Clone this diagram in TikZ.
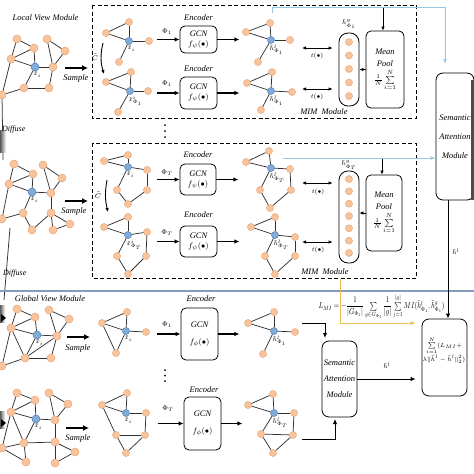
\documentclass[tikz,border=0pt]{standalone}
\usepackage{fontspec}
\setmainfont{Liberation Serif}
\usepackage{amsmath}
\usepackage{graphicx}
\usetikzlibrary{arrows.meta,calc}
\definecolor{fo}{RGB}{248,196,158}
\definecolor{do}{RGB}{232,165,115}
\definecolor{fb}{RGB}{128,172,215}
\definecolor{db}{RGB}{75,125,180}
\definecolor{lblue}{RGB}{150,200,228}
\definecolor{ylw}{RGB}{235,190,85}
\definecolor{sepc}{RGB}{135,155,190}
\newcommand\mkgraph[4]{%
  \foreach \n/\x/\y/\c in {#3}{\node[gn,minimum size=#2,fill=f\c,draw=d\c] (#1-\n) at (\x,\y) {};}
  \foreach \a/\b in {#4}{\draw[edge] (#1-\a)--(#1-\b);}
}
\newcommand\blbl[2]{\node[mlbl,anchor=north west] at ($(#1)+(-1.5,4.5)$) {#2};}
\begin{document}
\begin{tikzpicture}[x=1pt,y=-1pt,
 gn/.style={circle,inner sep=0pt,line width=0.5pt},
 edge/.style={draw=black!80,line width=0.75pt},
 arr/.style={-{Latex[length=5pt,width=4.5pt]},line width=1.3pt},
 sarr/.style={-{Latex[length=6pt,width=6pt]},line width=2pt},
 darr/.style={{Latex[length=4pt,width=3.5pt]}-{Latex[length=4pt,width=3.5pt]},line width=1pt},
 thinarr/.style={-{Latex[length=4pt,width=3.5pt]},line width=0.9pt},
 box/.style={draw,rounded corners=5pt,line width=0.8pt,inner sep=1pt},
 dbox/.style={draw,dash pattern=on 4pt off 2.5pt,line width=0.9pt},
 lbl/.style={font=\fontsize{8.5}{9}\selectfont\itshape,inner sep=0pt},
 mlbl/.style={font=\fontsize{6}{7}\selectfont,inner sep=0pt},
]
\useasboundingbox (0,0) rectangle (474,474);
\clip (0,0) rectangle (474,474);
\fill[white] (0,0) rectangle (474,474);

% ---------- left big graphs ----------
\node[lbl] (tlv) at (45.5,18) {Local View Module};
\mkgraph{La}{8pt}{1/17/39/o,2/34/48/o,3/47/39/o,4/65/51/o,5/11/59/o,6/35/67/b,7/53/67/o,8/24/88/o,9/49/88/o,10/2/95/o}{1/2,1/5,2/5,2/6,5/6,3/7,3/4,4/7,6/7,7/9,8/9,6/8,5/10,8/10}
\blbl{La-6}{$\tilde{x}_i$}

\mkgraph{Lb}{8pt}{1/14/164/o,2/33/174/o,3/43/165/o,4/62/178/o,5/9/184/o,6/32/192/b,7/51/193/o,8/23/213/o,9/51/213/o,10/2/219/o,11/32/230/o,12/53/230/o,13/70/224/o}{1/2,1/5,2/5,2/6,5/6,3/7,3/4,4/7,6/7,7/9,6/8,5/10,8/10,8/11,11/9,9/13,9/12,12/13}
\blbl{Lb-6}{$\tilde{x}_i$}

\node[lbl] (tgv) at (50,299) {Global View Module};
\mkgraph{Ga}{8pt}{1/17/309/o,2/35/317/o,3/49/310/o,4/69/319/o,5/11/328/o,6/37/335/b,7/57/336/o,8/25/358/o,9/51/358/o,10/2/366/o}{1/2,1/5,2/5,2/6,5/6,5/8,5/10,8/10,3/7,3/4,4/7,6/7,7/8,7/9,8/9,6/8}
\blbl{Ga-6}{$\tilde{x}_i$}

\mkgraph{Gb}{8pt}{1/17/393/o,2/35/400/o,3/49/393/o,4/68/404/o,5/11/412/o,6/36/419/b,7/55/420/o,8/24/443/o,9/55/442/o,10/2/448/o,11/26/462/o,12/55/463/o,13/75/452/o}{1/2,1/5,2/5,2/6,5/6,5/8,5/10,8/10,3/7,3/4,4/7,6/7,7/9,8/9,6/8,10/11,8/11,9/12,9/13,12/13}
\blbl{Gb-6}{$\tilde{x}_i$}

% diffuse lines
\draw[edge] (La-10) -- (3,160);
\shade[left color=black!65,right color=white] (0,130) rectangle (6,152);
\node[lbl,font=\fontsize{8}{9}\selectfont\itshape,anchor=west] at (2,130) {Diffuse};
\draw[edge] (10,228) -- (4,300);
\node[lbl,font=\fontsize{8}{9}\selectfont\itshape,anchor=west] at (3,274) {Diffuse};
\shade[left color=black!65,right color=white] (0,305) rectangle (5,322);
\shade[left color=black!65,right color=white] (0,411) rectangle (5,428);
\fill (1,314) -- (6,318) -- (1,322) -- cycle;
\fill (1,419) -- (6,423) -- (1,427) -- cycle;

% sample arrows
\coordinate (s1) at (65,68); \draw[sarr] (s1) -- ++(23,0);
\node[lbl] at (76,78) {Sample};
\coordinate (s2) at (65,201); \draw[sarr] (s2) -- ++(23,0);
\node[lbl] at (74,211) {Sample};
\coordinate (s3) at (67,337); \draw[sarr] (s3) -- ++(23,0);
\node[lbl] at (78,348) {Sample};
\coordinate (s4) at (66,428); \draw[sarr] (s4) -- ++(23,0);
\node[lbl] at (78,438) {Sample};

% ---------- dashed boxes ----------
\draw[dbox] (92,5) rectangle (416,118);
\draw[dbox] (92,143) rectangle (416,278);
\foreach \yy in {125,131,137} \fill (165,\yy) circle (1pt);
\foreach \yy in {370,375.5,381} \fill (165,\yy) circle (1pt);

% ---------- box 1 ----------
\mkgraph{Sa}{7pt}{1/106/33/o,2/129/22/o,3/129/41/b,4/149/41/o,5/119/62/o}{1/2,1/3,2/3,3/4,3/5}
\blbl{Sa-3}{$\tilde{x}_i$}
\mkgraph{Sb}{7pt}{1/106/82/o,2/131/72/o,3/130/91/b,4/148/91/o,5/118/112/o}{1/2,1/3,2/3,3/4,3/5}
\blbl{Sb-3}{$\tilde{x}^{i}_{\Phi_1}$}
\draw[thinarr] ($(Sa-1)+(-3,10)$) to[bend right=15] ($(Sb-1)+(-2,-8)$);
\node[mlbl,font=\fontsize{7}{8}\selectfont] at (95,57) {$\tilde{C}$};

\node[box,minimum width=37pt,minimum height=27pt,align=center,lbl] (E1) at (198.5,39.5) {GCN\\[1pt]$f_\psi(\bullet)$};
\node[lbl] at (198.5,18) {Encoder};
\draw[arr] ([xshift=-23pt]E1.west) -- (E1.west);
\node[mlbl,font=\fontsize{7}{8}\selectfont] at (167,32) {$\Phi_1$};
\node[box,minimum width=37pt,minimum height=32pt,align=center,lbl] (E2) at (198.5,93) {GCN\\[1pt]$f_\psi(\bullet)$};
\node[lbl] at (198.5,69) {Encoder};
\draw[arr] ([xshift=-23pt]E2.west) -- (E2.west);
\node[mlbl,font=\fontsize{7}{8}\selectfont] at (167,84) {$\Phi_1$};

\mkgraph{Ha}{7pt}{1/246/32/o,2/270/23/o,3/271/40/b,4/290/40/o,5/258/62/o}{1/2,1/3,2/3,3/4,3/5}
\blbl{Ha-3}{$\tilde{h}^{l}_{\Phi_1}$}
\mkgraph{Hb}{7pt}{1/247/83/o,2/272/72/o,3/271/91/b,4/292/92/o,5/261/110/o}{1/2,1/3,2/3,3/4,3/5}
\blbl{Hb-3}{$\tilde{h}^{l}_{\Phi_1}$}
\draw[arr] (E1.east) -- ($(E1.east)+(22,0)$);
\draw[arr] (E2.east) -- ($(E2.east)+(22,0)$);

\node[box,rounded corners=9pt,minimum width=20pt,minimum height=73pt] (V1) at (349,69.5) {};
\foreach \yy in {42,55.5,69,82.5,96} \node[gn,minimum size=7pt,fill=fo,draw=do] at (349,\yy) {};
\node[mlbl] at (349,24) {$\tilde{h}^{g}_{\Phi_1}$};
\node[box,minimum width=38pt,minimum height=77pt,align=center,lbl] (M1) at (385,69.5) {Mean\\[3pt]Pool\\[2pt]$\frac{1}{N}\sum\limits_{i=1}^{N}$};
\draw[thinarr] (M1.west) -- (V1.east);
\coordinate (tp1) at (383,7);
\draw[thinarr] (tp1) -- (tp1 |- M1.north);
\coordinate (ta1) at (302,48); \draw[darr] (ta1) -- ($(ta1 -| V1.west)+(-6,0)$);
\node[mlbl,font=\fontsize{6.5}{7}\selectfont] at (317,56) {$t(\bullet)$};
\coordinate (ta2) at (302,89); \draw[darr] (ta2) -- ($(ta2 -| V1.west)+(-6,0)$);
\node[mlbl,font=\fontsize{6.5}{7}\selectfont] at (317,97) {$t(\bullet)$};
\node[lbl] at (324,112) {MIM\ \ Module};

% ---------- box 2 ----------
\mkgraph{Sc}{7pt}{1/104/161/o,2/128/155/o,3/128/167/b,4/147/170/o,5/117/190/o,6/147/190/o,7/128/204/o}{1/2,1/3,2/3,3/4,3/5,4/6,6/7,5/7}
\blbl{Sc-3}{$\tilde{x}_i$}
\mkgraph{Sd}{7pt}{1/104/227/o,2/128/217/o,3/128/235/b,4/147/232/o,5/117/256/o,6/146/256/o,7/128/274/o}{1/2,1/3,2/3,3/4,3/5,4/6,6/7,5/7}
\blbl{Sd-3}{$\tilde{x}^{i}_{\Phi_T}$}
\draw[thinarr] ($(Sc-1)+(3,19)$) to[bend right=12] ($(Sd-1)+(4,-15)$);
\node[mlbl,font=\fontsize{7}{8}\selectfont] at (98,195) {$\tilde{C}$};

\node[box,minimum width=36pt,minimum height=31pt,align=center,lbl] (E3) at (198,179.5) {GCN\\[1pt]$f_\psi(\bullet)$};
\node[lbl] at (198,155) {Encoder};
\draw[arr] ([xshift=-23pt]E3.west) -- (E3.west);
\node[mlbl,font=\fontsize{7}{8}\selectfont] at (167,173) {$\Phi_T$};
\node[box,minimum width=37pt,minimum height=31pt,align=center,lbl] (E4) at (198.5,241.5) {GCN\\[1pt]$f_\psi(\bullet)$};
\node[lbl] at (198.5,215) {Encoder};
\draw[arr] ([xshift=-23pt]E4.west) -- (E4.west);
\node[mlbl,font=\fontsize{7}{8}\selectfont] at (167,233) {$\Phi_T$};
\draw[arr] (E3.east) -- ($(E3.east)+(22,0)$);
\draw[arr] (E4.east) -- ($(E4.east)+(22,0)$);

\mkgraph{Hc}{7pt}{1/246/162/o,2/269/151/o,3/271/168/b,4/290/169/o,5/260/190/o,6/291/190/o,7/270/208/o}{1/2,1/3,2/3,3/4,3/5,4/6,6/7,5/7}
\blbl{Hc-3}{$\tilde{h}^{l}_{\Phi_T}$}
\mkgraph{Hd}{7pt}{1/251/227/o,2/275/217/o,3/275/235/b,4/295/237/o,5/265/256/o,6/295/256/o,7/275/274/o}{1/2,1/3,2/3,3/4,3/5,4/6,6/7,5/7}
\blbl{Hd-3}{$\tilde{h}^{l}_{\Phi_T}$}

\node[box,rounded corners=9pt,minimum width=20pt,minimum height=92pt] (V2) at (349,217) {};
\foreach \yy in {179,191.3,203.7,216,228.3,240.7,253} \node[gn,minimum size=7pt,fill=fo,draw=do] at (349,\yy) {};
\node[mlbl] at (349,165) {$\tilde{h}^{g}_{\Phi_T}$};
\node[box,minimum width=36pt,minimum height=76pt,align=center,lbl] (M2) at (384,213) {Mean\\[3pt]Pool\\[2pt]$\frac{1}{N}\sum\limits_{i=1}^{N}$};
\draw[thinarr] (M2.west) -- (M2.west -| V2.east);
\coordinate (tp2) at (382,158);
\draw[thinarr] (tp2) -- (tp2 |- M2.north);
\coordinate (ta3) at (302,183); \draw[darr] (ta3) -- ($(ta3 -| V2.west)+(-6,0)$);
\node[mlbl,font=\fontsize{6.5}{7}\selectfont] at (318,192) {$t(\bullet)$};
\coordinate (ta4) at (302,242); \draw[darr] (ta4) -- ($(ta4 -| V2.west)+(-6,0)$);
\node[mlbl,font=\fontsize{6.5}{7}\selectfont] at (318,250) {$t(\bullet)$};
\node[lbl] at (325,272) {MIM\ \ Module};

% ---------- semantic attention (top) ----------
\node[box,rounded corners=7pt,minimum width=38pt,minimum height=127pt,align=center,lbl] (SA1) at (455,136.5) {Semantic\\[10pt]Attention\\[10pt]Module};
\fill[black!70] (471,80) rectangle (474,200);
\coordinate (lb0) at (272,13);
\draw[lblue,line width=1pt,-{Latex[length=5pt,width=4pt]}] (lb0) -- (272,7) -- (445,7) -- (445,64);
\coordinate (lb1) at (283,158);
\draw[lblue,line width=1pt,-{Latex[length=5pt,width=4pt]}] (lb1) -- (lb1 -| SA1.west);

% separator
\draw[sepc,line width=1.3pt] (0,291) -- (474,291);

% ---------- global part ----------
\mkgraph{Gc}{7pt}{1/102/323/o,2/127/312/o,3/126/331/b,4/146/332/o,5/116/353/o}{1/2,1/3,2/3,3/4,3/5,1/5}
\blbl{Gc-3}{$\tilde{x}_i$}
\mkgraph{Gd}{7pt}{1/102/405/o,2/127/393/o,3/126/413/b,4/146/413/o,5/116/435/o,6/145/435/o,7/126/453/o}{1/2,1/3,2/3,3/4,4/6,5/6,1/5,5/7,6/7}
\blbl{Gd-3}{$\tilde{x}_i$}

\node[box,minimum width=37pt,minimum height=52pt,align=center,lbl] (E5) at (199.5,334) {GCN\\[8pt]$f_\phi(\bullet)$};
\node[lbl] at (201,299) {Encoder};
\draw[arr] ([xshift=-24pt]E5.west) -- (E5.west);
\node[mlbl,font=\fontsize{7}{8}\selectfont] at (167,325) {$\Phi_1$};
\node[box,minimum width=37pt,minimum height=53pt,align=center,lbl] (E6) at (202.5,423.5) {GCN\\[8pt]$f_\phi(\bullet)$};
\node[lbl] at (204,390) {Encoder};
\draw[arr] ([xshift=-26pt]E6.west) -- (E6.west);
\node[mlbl,font=\fontsize{7}{8}\selectfont] at (168,409) {$\Phi_T$};
\draw[arr] (E5.east) -- ($(E5.east)+(21,0)$);
\draw[arr] (E6.east) -- ($(E6.east)+(21,0)$);

\mkgraph{Ta}{7pt}{1/248/323/o,2/274/312/o,3/274/331/b,4/295/332/o,5/263/354/o}{1/2,1/3,2/3,3/4,3/5}
\blbl{Ta-3}{$\tilde{h}^{l}_{\Phi_1}$}
\mkgraph{Tb}{7pt}{1/248/405/o,2/273/394/o,3/274/413/b,4/294/413/o,5/261/434/o,6/293/435/o,7/273/453/o}{1/2,1/3,2/3,3/4,4/6,3/5,5/6,5/7,6/7}
\blbl{Tb-3}{$\tilde{h}^{l}_{\Phi_T}$}

\node[box,rounded corners=7pt,minimum width=35pt,minimum height=76pt,align=center,lbl] (SA2) at (339.5,379) {Semantic\\[7pt]Attention\\[7pt]Module};
\coordinate (g1) at (302,323);
\draw[line width=1pt,-{Latex[length=5pt,width=4.5pt]}] (g1) -- (325,323) -- (325,338);
\coordinate (g2) at (302,439);
\draw[line width=1pt,-{Latex[length=5pt,width=4.5pt]}] (g2) -- (335,439) -- (335,419);

\node[box,rounded corners=7pt,minimum width=45pt,minimum height=77pt] (F) at (444.5,357.5) {};
\node[align=center,inner sep=0pt,font=\fontsize{6.5}{10}\selectfont] at (444,350) {$\sum\limits_{i=1}^{N}(L_{MI}+$\\$\lambda\|\tilde{h}^{l}-\tilde{h}^{l}\|_2^2)$};
\draw[line width=1pt,-{Latex[length=5pt,width=4.5pt]}] (SA2.east) -- ($(SA2.east -| F.west)+(-6,0)$);
\node[mlbl,font=\fontsize{6.5}{7}\selectfont] at (387,366) {$\tilde{h}^{l}$};

\coordinate (hl) at (448,200);
\draw[line width=1pt,-{Latex[length=5pt,width=4.5pt]}] (hl) -- (hl |- F.north);
\node[mlbl,font=\fontsize{6.5}{7}\selectfont] at (456,252) {$\tilde{h}^{l}$};

\coordinate (y0) at (340,279);
\draw[ylw,line width=1pt,-{Latex[length=5pt,width=4pt]}] (y0) -- (340,323) -- ($(F.west |- 0,323)+(-6,0)$);

\node[inner sep=0pt] (LMI) at (381.5,307) {\resizebox*{126pt}{25pt}{$L_{MI}=-\dfrac{1}{|G_{\Phi_1}|}\sum\limits_{g\in G_{\Phi_1}}\dfrac{1}{|g|}\sum\limits_{j=1}^{|g|}MI(\tilde{h}^{l}_{\Phi_1},\tilde{h}^{g}_{\Phi_1})$}};
\end{tikzpicture}
\end{document}
